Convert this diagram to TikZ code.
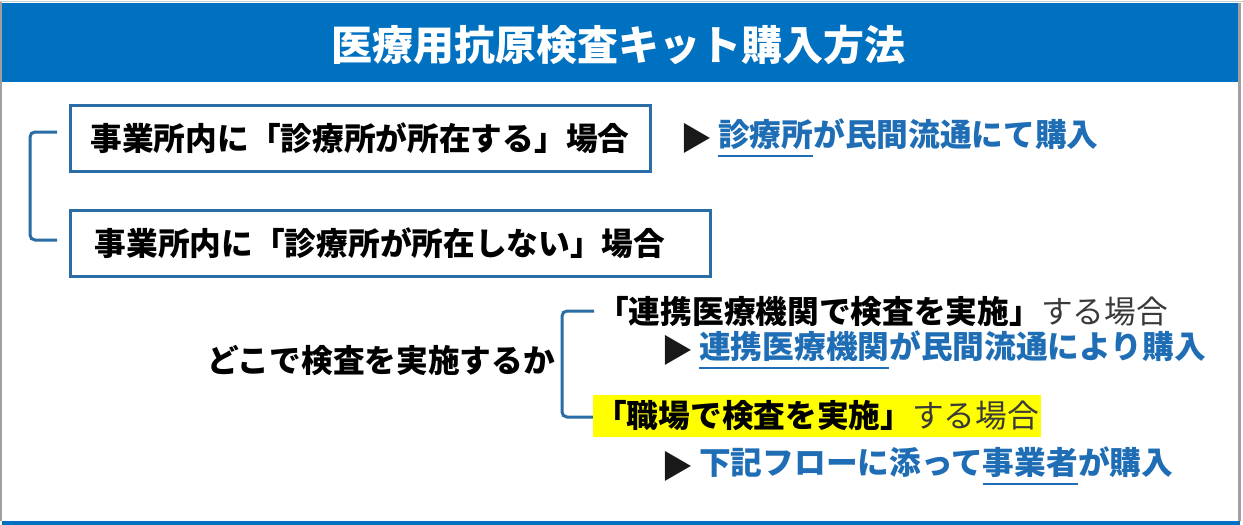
\documentclass[tikz,border=0pt]{standalone}
\usepackage{fontspec}
\setmainfont{Noto Sans CJK JP}
\definecolor{headblue}{HTML}{0070C0}
\definecolor{boxblue}{HTML}{2A6CA6}
\definecolor{txtblue}{HTML}{1F6EB5}
\definecolor{framegray}{HTML}{A0A0A0}
\definecolor{hilite}{HTML}{FFFF00}
\definecolor{lightk}{HTML}{3A3A3A}
\newcommand\jpsize{\fontsize{31.7}{36}\selectfont}
\newcommand\myul[1]{\setbox0\hbox{#1}\rlap{\rule[-11pt]{\wd0}{2pt}}\box0}
\tikzset{
  x=1pt, y=-1pt,
  jpbox/.style={draw=boxblue, line width=3pt, minimum height=66pt, inner sep=0pt, font=\jpsize\bfseries, text=black},
  brk/.style={draw=boxblue, line width=3pt, rounded corners=5pt},
  txt/.style={inner sep=0pt, anchor=west, font=\jpsize\bfseries, text=black},
  bluetxt/.style={txt, text=txtblue},
  tri/.style={inner sep=0pt, anchor=center, font=\fontsize{32}{36}\selectfont, text=black!90},
}
\begin{document}
\begin{tikzpicture}
\useasboundingbox (0,0) rectangle (1243,525);
% frame
\fill[white] (0,0) rectangle (1243,525);
\draw[draw=black!20, line width=1pt] (0,1.5) -- (1243,1.5);
\fill[headblue] (2,3) rectangle (1238,82);
\fill[headblue] (2,520.5) rectangle (1240,525);
\draw[framegray, line width=2.2pt] (1.1,2) -- (1.1,521);
\draw[framegray, line width=3pt] (1239.5,3) -- (1239.5,521);
% title
\node[text=white, font=\fontsize{41}{46}\selectfont\bfseries, inner sep=0pt] (title) at (618,45) {医療用抗原検査キット購入方法};
% boxes
\node[jpbox, minimum width=580pt] (box1) at (360,138) {事業所内に「診療所が所在する」場合};
\node[jpbox, minimum width=640pt] (box2) at (390,243) {\hspace*{-20pt}事業所内に「診療所が所在しない」場合};
% bracket 1
\coordinate (b1t) at (57,132);
\coordinate (b1b) at (57,240);
\draw[brk] (b1t) -- (30,132) -- (30,240) -- (b1b);
% result for clinic
\node[tri] (tri1) at (696,138) {▶};
\node[bluetxt] (res1) at (718,138) {\myul{診療所}が民間流通にて購入};
% where test
\node[txt] (where) at (207,360) {どこで検査を実施するか};
% bracket 2
\coordinate (b2t) at (594,311);
\coordinate (b2b) at (594,417);
\draw[brk] (b2t) -- (562,311) -- (562,417) -- (b2b);
% option A
\node[txt] (optA) at (597,312) {「連携医療機関で検査を実施」{\mdseries\color{lightk}する場合}};
\node[tri] (tri2) at (677,350) {▶};
\node[bluetxt] (resA) at (699,350) {\myul{連携医療機関}が民間流通により購入};
% option B
\node[txt, fill=hilite, inner xsep=2pt, minimum height=42pt] (optB) at (593,416) {「職場で検査を実施」{\mdseries\color{lightk}する場合}};
\node[tri] (tri3) at (677,466) {▶};
\node[bluetxt] (resB) at (699,466) {下記フローに添って\myul{事業者}が購入};
\end{tikzpicture}
\end{document}
